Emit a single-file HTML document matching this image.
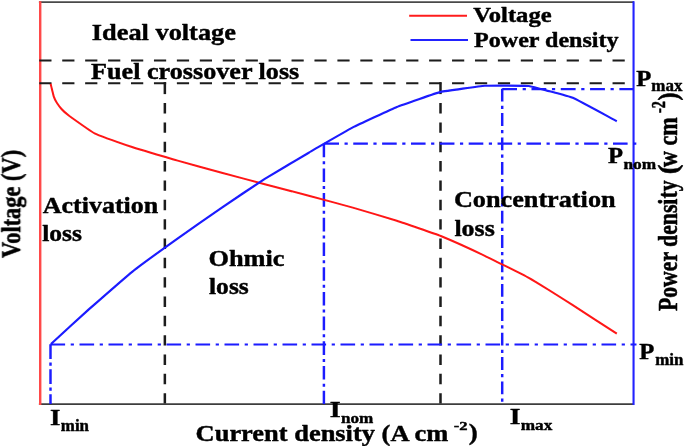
<!DOCTYPE html>
<html><head><meta charset="utf-8">
<style>
html,body{margin:0;padding:0;background:#fff;}
svg{display:block;}
text{font-family:"Liberation Serif",serif;font-weight:bold;fill:#050505;white-space:pre;stroke:#050505;stroke-width:0.42px;stroke-linejoin:round;}
</style></head><body>
<svg width="685" height="446" viewBox="0 0 685 446">
<defs><filter id="soft" x="-2%" y="-2%" width="104%" height="104%"><feGaussianBlur stdDeviation="0.42"/></filter></defs>
<rect width="685" height="446" fill="#fff"/>
<g filter="url(#soft)">
<line x1="38.9" y1="2.1" x2="634" y2="2.1" stroke="#4a4a4a" stroke-width="1.9"/>
<line x1="38.9" y1="404.05" x2="634" y2="404.05" stroke="#3c3c3c" stroke-width="1.8"/>
<line x1="40.2" y1="1.2" x2="40.2" y2="404.9" stroke="#ff4848" stroke-width="2.4"/>
<line x1="633.55" y1="1.2" x2="633.55" y2="404.9" stroke="#2020ff" stroke-width="2.1"/>
<g stroke="#1a1a1a" stroke-width="2.0" fill="none">
<line x1="39.3" y1="60.5" x2="634" y2="60.5" stroke-dasharray="12.2 10.73"/>
<line x1="39.3" y1="83.2" x2="634" y2="83.2" stroke-dasharray="12.2 10.73"/>
<line x1="164.85" y1="82.2" x2="164.85" y2="94.1" stroke-width="2.5"/>
<line x1="164.85" y1="103.1" x2="164.85" y2="404" stroke-dasharray="10.4 8.94" stroke-width="2.5"/>
<line x1="440.5" y1="82.2" x2="440.5" y2="94.1" stroke-width="2.5"/>
<line x1="440.5" y1="103.1" x2="440.5" y2="404" stroke-dasharray="10.4 8.94" stroke-width="2.5"/>
</g>
<g stroke="#1a1aff" stroke-width="2.4" fill="none">
<line x1="50.5" y1="344.5" x2="636.5" y2="344.5" stroke-width="2.2" stroke-dasharray="14.6 5.60 3.2 5.60" stroke-dashoffset="0"/>
<line x1="50.5" y1="344.2" x2="50.5" y2="404" stroke-width="2.45" stroke-dasharray="14.7 3.55 3.2 3.55" stroke-dashoffset="0"/>
<line x1="324.4" y1="143.7" x2="636.5" y2="143.7" stroke-width="2.2" stroke-dasharray="14.6 5.53 3.2 5.53" stroke-dashoffset="0"/>
<line x1="323.9" y1="143.7" x2="323.9" y2="404" stroke-width="2.45" stroke-dasharray="13.6 4.05 3.0 4.05" stroke-dashoffset="0"/>
<line x1="502.2" y1="89.05" x2="634" y2="89.05" stroke-width="2.2" stroke-dasharray="14.8 5.65 3.2 5.65" stroke-dashoffset="0"/>
<line x1="502.2" y1="88.7" x2="502.2" y2="404" stroke-width="2.45" stroke-dasharray="12.8 4.20 3.2 4.20" stroke-dashoffset="0"/>
</g>
<path d="M50.6 83.8 C50.8 84.4 53.4 95.5 53.7 96.4 C54.0 97.3 56.4 102.1 56.8 102.7 C57.2 103.3 60.9 108.3 61.5 109.0 C62.1 109.7 67.8 114.8 69.4 116.0 C71.1 117.2 91.3 131.7 94.5 133.3 C97.7 134.9 128.7 145.9 132.8 147.3 C136.9 148.7 172.4 159.1 176.8 160.4 C181.2 161.7 216.4 171.3 220.8 172.5 C225.2 173.7 260.4 183.1 264.8 184.3 C269.2 185.5 304.4 194.5 308.8 195.7 C313.2 196.9 348.4 206.3 352.8 207.6 C357.2 208.9 392.4 219.4 396.8 220.8 C401.2 222.2 436.4 234.2 440.8 236.0 C445.2 237.8 480.4 253.7 484.8 255.8 C489.2 257.9 524.4 275.4 528.8 277.9 C533.2 280.4 568.4 302.4 572.8 305.2 C577.2 308.0 614.6 332.3 616.8 333.7" fill="none" stroke="#ff1515" stroke-width="2.0" stroke-linejoin="round"/>
<path d="M51.0 344.0 C52.5 342.6 85.5 312.3 88.8 309.4 C92.1 306.5 129.3 274.1 132.8 271.3 C136.3 268.5 173.3 241.6 176.8 239.1 C180.3 236.6 217.3 210.7 220.8 208.3 C224.3 205.9 261.3 181.0 264.8 178.8 C268.3 176.6 305.3 154.8 308.8 152.7 C312.3 150.6 349.3 129.2 352.8 127.4 C356.3 125.6 393.3 108.4 396.8 107.0 C400.3 105.6 437.3 92.7 440.8 91.9 C444.3 91.1 481.3 86.0 484.8 85.8 C488.3 85.6 525.3 85.5 528.8 86.0 C532.3 86.5 569.3 96.4 572.8 97.8 C576.3 99.2 615.0 120.3 616.8 121.2" fill="none" stroke="#1a1aff" stroke-width="2.15" stroke-linejoin="round"/>
<line x1="409.2" y1="15.7" x2="467" y2="15.7" stroke="#ff1a1a" stroke-width="2.0"/>
<line x1="410.5" y1="40.0" x2="468" y2="40.0" stroke="#2222ff" stroke-width="2.0"/>
<text transform="translate(473.2,22.3) scale(1.174,1)" font-size="21">Voltage</text>
<text transform="translate(474.1,47.1) scale(1.145,1)" font-size="21">Power density</text>
<text transform="translate(91.8,40.2) scale(1.136,1)" font-size="23.2">Ideal voltage</text>
<text transform="translate(91.0,79.0) scale(1.128,1)" font-size="23.2">Fuel crossover loss</text>
<text transform="translate(42.8,212.6) scale(1.121,1)" font-size="23.2">Activation</text>
<text transform="translate(42.2,241.2) scale(1.102,1)" font-size="23.2">loss</text>
<text transform="translate(208.4,265.8) scale(1.137,1)" font-size="23.2">Ohmic</text>
<text transform="translate(209.0,293.9) scale(1.102,1)" font-size="23.2">loss</text>
<text transform="translate(453.9,207.0) scale(1.131,1)" font-size="23.2">Concentration</text>
<text transform="translate(454.4,235.5) scale(1.119,1)" font-size="23.2">loss</text>
<text transform="translate(195.6,440.6) scale(1.140,1)" font-size="23.2">Current density (A cm </text>
<text transform="translate(453.8,430.0) scale(1.227,1)" font-size="13.5">-2</text>
<text transform="translate(468.7,440.3) scale(1.165,1)" font-size="23.2">)</text>
<text transform="translate(50.00,424.70) scale(1.113,1)" font-size="24">I</text><text transform="translate(60.80,430.50) scale(1.071,1)" font-size="15.8">min</text>
<text transform="translate(329.80,416.80) scale(1.202,1)" font-size="23.3">I</text><text transform="translate(341.00,422.70) scale(1.099,1)" font-size="15.6">nom</text>
<text transform="translate(509.70,424.20) scale(1.195,1)" font-size="23">I</text><text transform="translate(520.70,430.30) scale(1.105,1)" font-size="15.6">max</text>
<text transform="translate(636.25,85.50) scale(1.110,1)" font-size="22.2">P</text><text transform="translate(651.30,91.35) scale(1.074,1)" font-size="15.8">max</text>
<text transform="translate(608.10,163.10) scale(1.085,1)" font-size="22.7">P</text><text transform="translate(623.50,168.90) scale(1.110,1)" font-size="15.6">nom</text>
<text transform="translate(639.35,358.60) scale(1.062,1)" font-size="23.2">P</text><text transform="translate(655.20,364.55) scale(1.073,1)" font-size="15.8">min</text>
<text transform="translate(20.2,258.0) scale(1.270,1) rotate(-90) scale(1.044,1)" font-size="21.5">Voltage (V)</text>
<text transform="translate(677.0,311.0) scale(1.270,1) rotate(-90) scale(1.011,1)" font-size="21.5">Power density</text>
<text transform="translate(676.5,174.2) scale(1.270,1) rotate(-90) scale(1.340,1)" font-size="21.5">(</text>
<text transform="translate(677.0,167.0) scale(1.270,1) rotate(-90) scale(1.024,1)" font-size="21.5">w cm</text>
<text transform="translate(664.6,113.1) scale(1.270,1) rotate(-90) scale(1.020,1)" font-size="14">-2</text>
<text transform="translate(676.5,100.6) scale(1.270,1) rotate(-90) scale(1.117,1)" font-size="21.5">)</text>
</g>
</svg>
</body></html>
